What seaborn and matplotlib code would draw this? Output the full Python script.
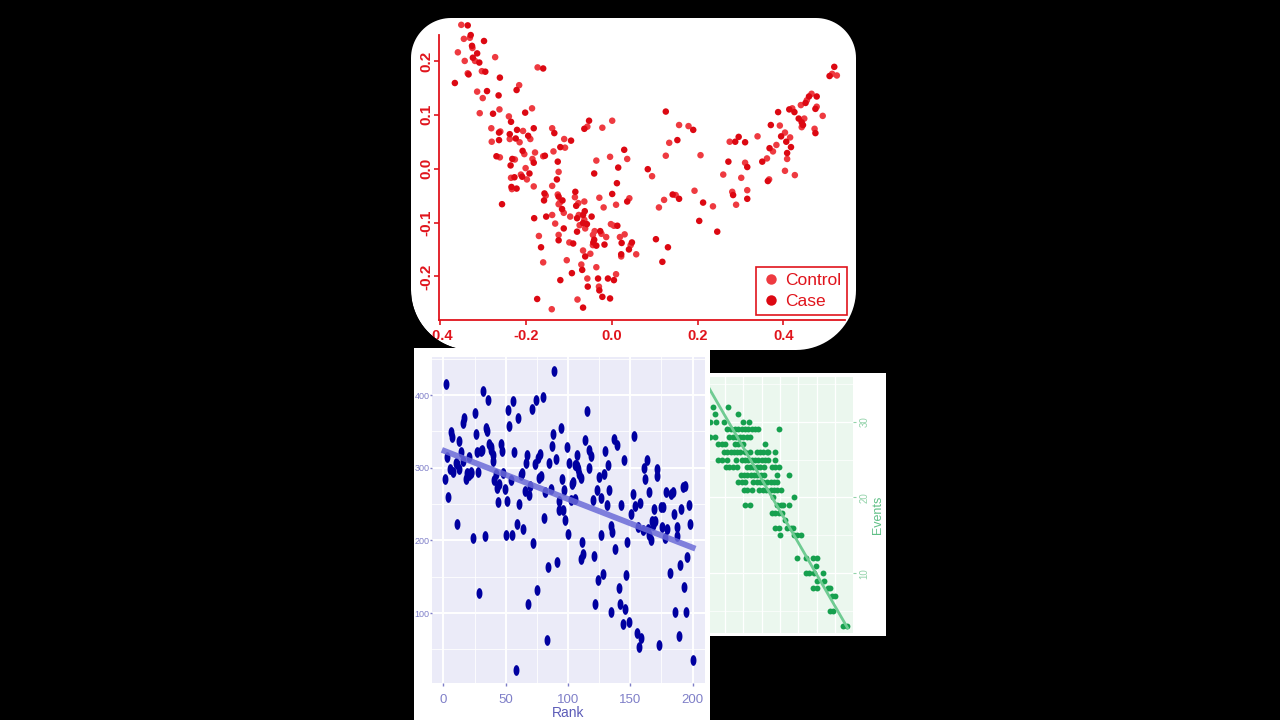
import numpy as np
import pandas as pd
import matplotlib
matplotlib.use("Agg")
import matplotlib.pyplot as plt
import matplotlib.transforms as mtransforms
from matplotlib.patches import PathPatch, Rectangle
from matplotlib.path import Path
from matplotlib.ticker import MultipleLocator, FixedLocator
import seaborn as sns

# ---------------- data: panel 1 (PCA scatter) ----------------
control_pts = [
    (-0.351, 0.267), (-0.345, 0.241), (-0.331, 0.243), (-0.359, 0.216), (-0.325, 0.224),
    (-0.343, 0.200), (-0.319, 0.200), (-0.336, 0.177), (-0.303, 0.181), (-0.272, 0.207),
    (-0.314, 0.143), (-0.301, 0.131), (-0.308, 0.103), (-0.262, 0.110), (-0.216, 0.155),
    (-0.173, 0.188), (-0.186, 0.112), (-0.240, 0.097), (-0.281, 0.075), (-0.260, 0.069),
    (-0.238, 0.055), (-0.207, 0.070), (-0.190, 0.055), (-0.280, 0.050), (-0.215, 0.049),
    (-0.204, 0.027), (-0.261, 0.021), (-0.226, 0.017), (-0.185, 0.018), (-0.179, 0.030),
    (-0.201, 0.001), (-0.235, -0.017), (-0.212, -0.011), (-0.198, -0.020), (-0.233, -0.038),
    (-0.182, -0.033), (-0.160, 0.023), (-0.139, 0.075), (-0.136, 0.032), (-0.111, 0.055),
    (-0.109, 0.039), (-0.124, -0.006), (-0.139, -0.032), (-0.154, -0.050), (-0.126, -0.048),
    (-0.121, -0.063), (-0.124, -0.066), (-0.112, -0.082), (-0.139, -0.086), (-0.132, -0.102),
    (-0.124, -0.123), (-0.170, -0.125), (-0.160, -0.174), (-0.140, -0.261), (-0.105, -0.170),
    (-0.099, -0.137), (-0.097, -0.089), (-0.086, -0.053), (-0.078, -0.064), (-0.077, -0.086),
    (-0.064, -0.061), (-0.075, -0.105), (-0.064, -0.095), (-0.080, -0.243), (-0.067, -0.152),
    (-0.071, -0.178), (-0.062, -0.111), (-0.057, -0.204), (-0.050, -0.158), (-0.044, -0.123),
    (-0.044, -0.142), (-0.040, -0.116), (-0.036, 0.015), (-0.036, -0.183), (-0.030, -0.219),
    (-0.029, -0.054), (-0.024, -0.121), (-0.019, -0.072), (-0.013, -0.127), (-0.004, 0.022),
    (-0.002, -0.103), (0.001, 0.089), (0.005, -0.106), (0.010, -0.067), (0.010, -0.196),
    (0.019, -0.127), (0.022, -0.163), (0.030, -0.122), (0.036, 0.018), (0.041, -0.055),
    (0.044, -0.142), (0.057, -0.159), (-0.057, 0.078), (-0.022, 0.076), (0.094, -0.014),
    (0.110, -0.072), (0.122, -0.058), (0.126, 0.024), (0.134, 0.048), (0.149, -0.049),
    (0.157, 0.081), (0.179, 0.079), (0.193, -0.041), (0.207, 0.025), (0.236, -0.070),
    (0.260, -0.011), (0.275, 0.050), (0.281, -0.043), (0.290, -0.067), (0.302, -0.017),
    (0.311, 0.011), (0.316, -0.040), (0.340, 0.060), (0.362, 0.019), (0.367, -0.020),
    (0.376, 0.032), (0.384, 0.044), (0.392, 0.080), (0.404, 0.067), (0.404, -0.004),
    (0.409, 0.018), (0.416, 0.058), (0.421, 0.112), (0.427, -0.012), (0.441, 0.118),
    (0.443, 0.077), (0.449, 0.093), (0.455, 0.127), (0.466, 0.139), (0.478, 0.115),
    (0.473, 0.074), (0.492, 0.098), (0.514, 0.176), (0.525, 0.173),
]
case_pts = [
    (-0.336, 0.266), (-0.329, 0.248), (-0.298, 0.237), (-0.326, 0.228), (-0.314, 0.214),
    (-0.324, 0.206), (-0.309, 0.197), (-0.334, 0.175), (-0.295, 0.180), (-0.366, 0.159),
    (-0.291, 0.144), (-0.261, 0.169), (-0.264, 0.136), (-0.277, 0.102), (-0.222, 0.146),
    (-0.160, 0.186), (-0.202, 0.104), (-0.235, 0.087), (-0.263, 0.067), (-0.238, 0.064),
    (-0.221, 0.072), (-0.195, 0.061), (-0.224, 0.056), (-0.263, 0.053), (-0.208, 0.033),
    (-0.269, 0.023), (-0.232, 0.018), (-0.236, 0.006), (-0.182, 0.011), (-0.182, 0.075),
    (-0.192, -0.009), (-0.227, -0.016), (-0.209, -0.015), (-0.234, -0.034), (-0.222, -0.037),
    (-0.256, -0.066), (-0.156, 0.024), (-0.134, 0.066), (-0.126, 0.013), (-0.120, 0.040),
    (-0.095, 0.052), (-0.128, -0.020), (-0.157, -0.046), (-0.158, -0.059), (-0.124, -0.052),
    (-0.115, -0.059), (-0.116, -0.075), (-0.153, -0.089), (-0.181, -0.092), (-0.112, -0.111),
    (-0.124, -0.133), (-0.165, -0.146), (-0.174, -0.242), (-0.120, -0.207), (-0.093, -0.194),
    (-0.090, -0.139), (-0.085, -0.043), (-0.083, -0.069), (-0.081, -0.092), (-0.067, -0.086),
    (-0.063, -0.079), (-0.067, -0.101), (-0.081, -0.117), (-0.067, -0.258), (-0.069, -0.188),
    (-0.062, -0.163), (-0.058, -0.103), (-0.056, -0.219), (-0.047, -0.089), (-0.043, -0.137),
    (-0.041, -0.132), (-0.041, -0.009), (-0.036, -0.143), (-0.032, -0.204), (-0.029, -0.226),
    (-0.027, -0.116), (-0.022, -0.238), (-0.017, -0.141), (-0.009, -0.204), (-0.004, -0.241),
    (0.001, -0.047), (0.005, -0.207), (0.013, -0.106), (0.012, -0.027), (0.015, 0.002),
    (0.022, -0.159), (0.023, -0.138), (0.029, 0.035), (0.036, -0.061), (0.040, -0.150),
    (0.047, -0.137), (-0.064, 0.074), (-0.053, 0.089), (0.084, -0.001), (0.103, -0.131),
    (0.118, -0.173), (0.126, 0.106), (0.131, -0.146), (0.142, -0.048), (0.153, 0.053),
    (0.157, -0.056), (0.190, 0.072), (0.204, -0.097), (0.213, -0.063), (0.246, -0.117),
    (0.272, 0.013), (0.288, 0.050), (0.283, -0.049), (0.296, 0.059), (0.311, 0.049),
    (0.316, 0.003), (0.316, -0.056), (0.351, 0.013), (0.364, -0.023), (0.368, 0.038),
    (0.371, 0.081), (0.388, 0.105), (0.395, 0.060), (0.407, 0.050), (0.409, 0.029),
    (0.414, 0.110), (0.418, 0.040), (0.426, 0.105), (0.436, 0.093), (0.443, 0.086),
    (0.446, 0.081), (0.452, 0.122), (0.460, 0.134), (0.475, 0.111), (0.478, 0.134),
    (0.475, 0.066), (0.508, 0.172), (0.519, 0.189),
]
group_labels = ["Control", "Case"]
group_colors = ["#ee3a40", "#dc0812"]
pc_xticks = [-0.4, -0.2, 0.0, 0.2, 0.4]
pc_xticklabels = ["-0.4", "-0.2", "0.0", "0.2", "0.4"]
pc_yticks = [-0.2, -0.1, 0.0, 0.1, 0.2]
pc_yticklabels = ["-0.2", "-0.1", "0.0", "0.1", "0.2"]

# ---------------- data: panel 2 (Rank scatter) ----------------
rank_pts = [
    (2.1, 415), (1.1, 284), (2.9, 315), (4.0, 259), (5.3, 298), (5.9, 349), (6.7, 342), (8.0, 294),
    (10.2, 307), (10.7, 305), (11.0, 223), (12.3, 298), (12.8, 337), (13.9, 322), (15.5, 362),
    (16.6, 368), (16.0, 309), (18.2, 285), (18.7, 293), (20.3, 290), (21.9, 294), (22.5, 293),
    (20.3, 315), (24.1, 203), (25.1, 375), (26.2, 346), (27.3, 321), (27.8, 294), (28.9, 127),
    (29.9, 323), (31.0, 324), (32.1, 405), (33.2, 206), (34.2, 354), (35.3, 350), (35.8, 393),
    (36.9, 333), (38.0, 329), (38.5, 324), (39.6, 317), (40.1, 309), (40.6, 283), (42.2, 291),
    (43.3, 272), (44.4, 277), (43.9, 253), (46.0, 332), (47.1, 323), (48.1, 293), (49.2, 270),
    (50.8, 254), (50.3, 207), (51.9, 379), (52.9, 357), (54.0, 283), (55.1, 207), (55.6, 392),
    (56.7, 322), (58.3, 21), (58.8, 223), (59.9, 369), (61.0, 250), (62.6, 290), (63.1, 293),
    (64.2, 215), (65.2, 268), (66.3, 307), (66.8, 317), (67.9, 113), (69.0, 262), (69.5, 275),
    (71.1, 381), (72.2, 196), (73.3, 305), (74.3, 393), (74.9, 131), (75.9, 313), (77.5, 319),
    (78.1, 288), (77.0, 286), (80.2, 397), (80.7, 231), (81.3, 267), (82.9, 63), (84.0, 164),
    (85.0, 307), (86.1, 271), (87.2, 330), (88.2, 346), (88.8, 433), (90.4, 312), (90.9, 170),
    (92.5, 254), (93.0, 242), (94.1, 354), (95.2, 285), (96.3, 242), (96.8, 269), (97.9, 228),
    (98.9, 328), (100.0, 209), (101.1, 307), (102.7, 256), (103.2, 277), (103.7, 280),
    (105.3, 304), (106.4, 303), (107.0, 302), (106.0, 257), (107.5, 317), (108.0, 298),
    (109.1, 291), (110.2, 286), (111.2, 198), (110.7, 175), (112.3, 181), (113.9, 338),
    (115.0, 378), (116.6, 325), (117.1, 299), (118.2, 316), (119.8, 255), (120.9, 179),
    (122.0, 112), (123.0, 269), (124.1, 145), (125.1, 287), (126.2, 258), (126.7, 208),
    (127.8, 154), (128.9, 291), (129.9, 323), (131.0, 249), (132.1, 304), (133.2, 269),
    (134.2, 220), (135.3, 212), (134.8, 102), (136.9, 340), (138.0, 188), (139.6, 331),
    (140.6, 134), (141.7, 113), (142.8, 249), (143.9, 85), (144.9, 311), (145.5, 106),
    (146.5, 153), (147.6, 198), (148.7, 88), (150.8, 236), (151.9, 264), (152.9, 344),
    (154.0, 247), (155.1, 73), (156.1, 219), (156.7, 53), (157.8, 252), (158.8, 66),
    (159.9, 214), (161.0, 299), (162.0, 285), (163.1, 310), (164.2, 215), (165.2, 208),
    (164.7, 267), (166.3, 201), (167.4, 226), (168.4, 221), (169.5, 226), (168.9, 243),
    (171.1, 298), (171.7, 289), (172.7, 56), (174.3, 246), (175.4, 219), (176.5, 246),
    (177.5, 203), (178.6, 267), (179.7, 216), (181.8, 155), (182.9, 264), (184.0, 267),
    (185.0, 236), (186.1, 102), (187.2, 206), (187.7, 218), (188.8, 68), (189.8, 166),
    (190.9, 243), (192.0, 274), (193.6, 275), (193.0, 136), (194.7, 102), (195.7, 177),
    (196.8, 248), (197.9, 222), (200.0, 35),
]
rank_trend_x = [1.0, 200.0]
rank_trend_y = [323.0, 190.0]
rank_xticks = [0, 50, 100, 150, 200]
rank_yticks = [100, 200, 300, 400]

# ---------------- data: panel 3 (Events scatter) ----------------
events_rows = {
    32: [0.36, 1.18],
    31: [0.46, 1.69],
    30: [0.18, 0.51, 0.95, 1.97, 2.33],
    29: [1.09, 1.31, 1.55, 1.73, 1.91, 2.09, 2.28, 2.46, 2.64, 2.82, 3.92],
    28: [0.18, 0.46, 1.24, 1.42, 1.60, 1.79, 1.97, 2.19, 2.37],
    27: [0.64, 0.82, 1.00, 1.55, 1.73, 2.00, 3.19],
    26: [0.95, 1.13, 1.31, 1.49, 1.68, 1.82, 2.09, 2.37, 2.73, 2.91, 3.10, 3.28, 3.37, 3.73],
    25: [0.64, 0.82, 1.09, 1.60, 1.91, 2.09, 2.28, 2.46, 2.64, 2.82, 3.01, 3.19, 3.37, 3.73],
    24: [1.06, 1.24, 1.42, 1.64, 2.19, 2.37, 2.55, 2.73, 2.91, 3.13, 3.55, 3.73, 3.92],
    23: [1.86, 2.04, 2.22, 2.40, 2.59, 2.77, 2.95, 3.13, 3.86, 4.52],
    22: [1.73, 1.91, 2.09, 2.55, 2.73, 2.91, 3.10, 3.28, 3.50, 3.68, 3.86],
    21: [2.04, 2.22, 2.46, 2.88, 3.06, 3.24, 3.50, 3.68, 3.86, 4.04],
    20: [3.64, 4.74],
    19: [2.09, 2.37, 3.86, 4.04, 4.19, 4.52],
    18: [3.55, 3.73, 3.92, 4.10],
    17: [4.28],
    16: [3.73, 3.92, 4.41, 4.59, 4.70],
    15: [4.01, 4.77, 4.95, 5.14],
    12: [4.95, 5.43, 5.83, 6.01],
    11: [5.97],
    10: [5.43, 5.56, 5.87, 6.34],
    9: [6.01, 6.41],
    8: [5.83, 6.05, 6.65, 6.74],
    7: [6.83, 7.01],
    5: [6.74, 6.92],
    3: [7.43, 7.65],
}
events_trend_x = [0.0, 7.69]
events_trend_y = [34.95, 2.8]
events_yticks = [10, 20, 30]

# ---------------- figure ----------------
W, H = 1280, 720
plt.rcParams["font.family"] = ["Liberation Sans", "DejaVu Sans"]
fig = plt.figure(figsize=(12.8, 7.2), dpi=100, facecolor="black")
pxT = mtransforms.Affine2D().scale(1.0 / W, 1.0 / H) + fig.transFigure


def rect(l, t, r, b):
    return [l / W, 1 - b / H, (r - l) / W, (b - t) / H]


def arc_pts(cx, cy, rad, a0, a1, n=24):
    return [(cx + rad * np.cos(a), cy + rad * np.sin(a)) for a in np.linspace(a0, a1, n)]


def rounded_path(l, t, r, b, r_top, r_bot):
    y0, y1 = H - b, H - t
    verts = []
    verts += arc_pts(l + r_bot, y0 + r_bot, r_bot, np.pi, 1.5 * np.pi)
    verts += arc_pts(r - r_bot, y0 + r_bot, r_bot, 1.5 * np.pi, 2 * np.pi)
    verts += arc_pts(r - r_top, y1 - r_top, r_top, 0.0, 0.5 * np.pi)
    verts += arc_pts(l + r_top, y1 - r_top, r_top, 0.5 * np.pi, np.pi)
    verts.append(verts[0])
    return Path(verts, closed=True)


def white_rect(l, t, r, b, z):
    p = Rectangle((l, H - b), r - l, b - t, transform=pxT, facecolor="white",
                  edgecolor="none", zorder=z)
    fig.add_artist(p)
    return p


# ---- panel 1 ----
RED = "#e0141c"
CARD_L, CARD_T, CARD_R, CARD_B, R_TOP, R_BOT = 411, 18, 856, 350, 40, 60
red_card = PathPatch(rounded_path(CARD_L, CARD_T, CARD_R, CARD_B, R_TOP, R_BOT),
                     transform=pxT, facecolor="white", edgecolor="none", zorder=1)
fig.add_artist(red_card)

ax1 = fig.add_axes(rect(439, 20, 845, 320), zorder=2)
ax1.set_facecolor("none")
pca_df = pd.DataFrame({
    "PC1": [p[0] for p in control_pts] + [p[0] for p in case_pts],
    "PC2": [p[1] for p in control_pts] + [p[1] for p in case_pts],
    "Group": [group_labels[0]] * len(control_pts) + [group_labels[1]] * len(case_pts),
})
sns.scatterplot(data=pca_df, x="PC1", y="PC2", hue="Group", hue_order=group_labels,
                palette=dict(zip(group_labels, group_colors)), s=22, linewidth=0, ax=ax1)
for c in ax1.collections:
    c.set_clip_path(red_card)
ax1.set_xlim(-0.403, 0.544)
ax1.set_ylim(-0.281, 0.276)
ax1.set_xlabel("")
ax1.set_ylabel("")
for s in ["top", "right"]:
    ax1.spines[s].set_visible(False)
for s in ["left", "bottom"]:
    ax1.spines[s].set_color(RED)
    ax1.spines[s].set_linewidth(1.3)
ax1.spines["left"].set_bounds(-0.281, 0.248)
ax1.set_xticks(pc_xticks)
ax1.set_xticklabels(pc_xticklabels, fontsize=10.5, fontweight="bold", color=RED)
ax1.set_yticks(pc_yticks)
ax1.set_yticklabels(pc_yticklabels, fontsize=11, fontweight="bold", color=RED,
                    rotation=90, va="center")
ax1.tick_params(colors=RED, length=3.5, width=1.2, direction="out")
ax1.tick_params(axis="x", pad=3)
ax1.tick_params(axis="y", pad=0.2)

sns.move_legend(ax1, "lower right", bbox_to_anchor=(1.005, 0.017), borderaxespad=0,
                title="", frameon=True, fancybox=False, framealpha=1, fontsize=12.5,
                markerscale=1.6, handletextpad=0.3, handlelength=1.0, borderpad=0.35,
                labelspacing=0.3, labelcolor=RED, edgecolor=RED)
ax1.get_legend().get_frame().set_linewidth(1.2)

# black mask outside the card's rounded lower-left corner (hides the clipped tick label)
y0 = H - CARD_B
mask_verts = [(CARD_L - 15, y0)] + arc_pts(CARD_L + R_BOT, y0 + R_BOT, R_BOT,
                                             1.5 * np.pi, np.pi) + [(CARD_L - 15, y0 + R_BOT)]
fig.add_artist(PathPatch(Path(mask_verts + [mask_verts[0]], closed=True), transform=pxT,
                         facecolor="black", edgecolor="none", zorder=2.5))

# ---- panel 3 (behind panel 2) ----
white_rect(704, 373, 886, 636, 3)
ax3 = fig.add_axes(rect(704, 377, 853, 633), zorder=4)
ax3.set_facecolor("#ebf7ee")
ev_x = [x for y, xs in events_rows.items() for x in xs]
ev_y = [y for y, xs in events_rows.items() for x in xs]
sns.scatterplot(x=ev_x, y=ev_y, color="#16a04e", s=18, linewidth=0, ax=ax3, zorder=3)
sns.lineplot(x=events_trend_x, y=events_trend_y, color="#6fcb92", linewidth=2.0,
             errorbar=None, ax=ax3, zorder=4)
ax3.set_xlim(-0.15, 7.99)
ax3.set_ylim(2.12, 35.9)
for s in ax3.spines.values():
    s.set_visible(False)
ax3.xaxis.set_major_locator(FixedLocator(range(0, 8)))
ax3.tick_params(axis="x", length=0, labelbottom=False)
ax3.yaxis.tick_right()
ax3.set_yticks(events_yticks)
ax3.yaxis.set_minor_locator(FixedLocator([5, 15, 25, 35]))
ax3.set_yticklabels([str(v) for v in events_yticks], rotation=90, va="center",
                    fontsize=7, color="#93d3aa")
ax3.tick_params(axis="y", which="major", colors="#93d3aa", length=2.5, width=0.8, pad=2)
ax3.tick_params(axis="y", which="minor", length=0)
ax3.grid(which="major", color="white", linewidth=0.9)
ax3.grid(which="minor", axis="y", color="white", linewidth=0.5)
ax3.set_axisbelow(True)
ax3.yaxis.set_label_position("right")
ax3.set_ylabel("Events", fontsize=9, color="#5fbf86", rotation=90)
ax3.yaxis.set_label_coords(1.13, 0.46)

# ---- panel 2 (front) ----
white_rect(414, 348, 710, 720, 5)
ax2 = fig.add_axes(rect(432, 357, 705, 683), zorder=6)
ax2.set_facecolor("#ebebf8")
t = np.linspace(0, 2 * np.pi, 41)
ellipse = Path(np.column_stack([0.55 * np.cos(t), np.sin(t)]), closed=True)
sns.scatterplot(x=[p[0] for p in rank_pts], y=[p[1] for p in rank_pts], color="#0000a0",
                marker=ellipse, s=60, linewidth=0, ax=ax2, zorder=3)
sns.lineplot(x=rank_trend_x, y=rank_trend_y, color="#6b6bd8", linewidth=4.2, alpha=0.85,
             errorbar=None, ax=ax2, zorder=4)
ax2.set_xlim(-9.1, 209.9)
ax2.set_ylim(3.7, 452.3)
for s in ax2.spines.values():
    s.set_visible(False)
ax2.set_xticks(rank_xticks)
ax2.set_yticks(rank_yticks)
ax2.xaxis.set_minor_locator(MultipleLocator(25))
ax2.yaxis.set_minor_locator(FixedLocator([50, 150, 250, 350, 450]))
ax2.grid(which="major", color="white", linewidth=1.4)
ax2.grid(which="minor", color="white", linewidth=0.6)
ax2.set_axisbelow(True)
ax2.tick_params(which="major", colors="#7f7fc8", width=1.0)
ax2.tick_params(axis="y", labelsize=6.5, pad=0.4, length=1.5)
ax2.tick_params(axis="x", labelsize=9.5, pad=6, length=2.0)
ax2.tick_params(which="minor", length=0)
ax2.set_xlabel("Rank", fontsize=10, color="#5c5cb8", labelpad=0)
ax2.set_ylabel("")

fig.savefig("out.png", dpi=100, facecolor="black")
